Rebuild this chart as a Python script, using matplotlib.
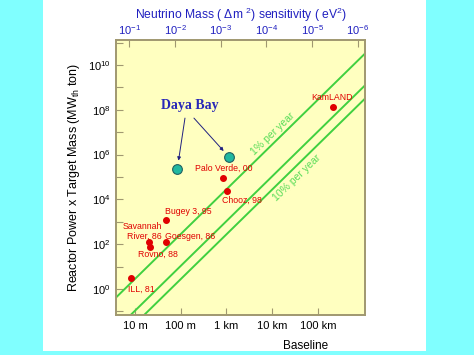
import numpy as np
import matplotlib
matplotlib.use("Agg")
import matplotlib.pyplot as plt
from matplotlib.patches import Rectangle

plt.rcParams['font.family'] = ['Liberation Sans', 'DejaVu Sans']
plt.rcParams['mathtext.fontset'] = 'custom'
plt.rcParams['mathtext.rm'] = 'Liberation Sans'
plt.rcParams['mathtext.it'] = 'Liberation Sans:italic'
narrow = ['Liberation Sans Narrow', 'Liberation Sans']

# past reactor experiments (baseline in m, power x mass)
sites = ["ILL, 81", "Savannah\nRiver, 86", "Rovno, 88", "Bugey 3, 95",
         "Goesgen, 86", "Palo Verde, 00", "Chooz, 98", "KamLAND"]
baseline = [8.2, 20.6, 21.3, 47.7, 47.7, 830, 1050, 2.14e5]
exposure = [3.2, 126, 75, 1200, 130, 8.7e4, 2.45e4, 1.3e8]
label_off = [(7.7, -8.1), (-4.9, 7.6), (6, -5), (16, 6),
             (17.3, 3.6), (1, 7.2), (10.4, -6.7), (-0.7, 7.2)]

# Daya Bay near / far
daya_baseline = [84, 1150]
daya_exposure = [2.3e5, 7.6e5]

# sensitivity lines: exposure = c * L^2
line_logc = [-1.55, -2.97, -3.56]

xticks = [10, 100, 1000, 1e4, 1e5]
xticklabels = ["10 m", "100 m", "1 km", "10 km", "100 km"]
dm2_ticks = [1e-1, 1e-2, 1e-3, 1e-4, 1e-5, 1e-6]
k = 0.75  # dm2 ~ k / L

fig = plt.figure(figsize=(4.74, 3.55), dpi=100)
fig.patch.set_facecolor('#80ffff')
bg = fig.add_axes([43/474, 4/355, 383/474, 351/355], zorder=-10)
bg.set_axis_off()
bg.add_patch(Rectangle((0, 0), 1, 1, transform=bg.transAxes, facecolor='white', edgecolor='none'))

ax = fig.add_axes([116/474, 40/355, 249/474, 275/355])
ax.set_facecolor('#ffffc0')
ax.set_xscale('log')
ax.set_yscale('log')
xlim = (3.84, 1.07e6)
ax.set_xlim(*xlim)
ax.set_ylim(0.069, 1.3e11)

spc = '#a09870'
for s in ax.spines.values():
    s.set_color(spc)
    s.set_linewidth(1.2)

L = np.array(xlim)
for c in line_logc:
    ax.plot(L, 10**c * L**2, color='#40d040', lw=1.4, zorder=2)

ax.text(0.631, 0.658, "1% per year", transform=ax.transAxes, rotation=44,
        color='#58dc58', fontsize=7.5, ha='center', va='center', family=narrow)
ax.text(0.727, 0.498, "10% per year", transform=ax.transAxes, rotation=44,
        color='#58dc58', fontsize=7.5, ha='center', va='center', family=narrow)

ax.plot(baseline, exposure, 'o', color='#e00000', ms=4, zorder=3)
for name, x, y, off in zip(sites, baseline, exposure, label_off):
    ax.annotate(name, (x, y), xytext=off, textcoords='offset points',
                ha='center', va='center', color='#e00000', fontsize=6.3,
                multialignment='right', linespacing=1.05, family=narrow)

ax.plot(daya_baseline, daya_exposure, 'o', color='#20b8a0', mec='#206060',
        mew=0.8, ms=7, zorder=4)
ax.text(0.297, 0.761, "Daya Bay", transform=ax.transAxes, ha='center', va='center',
        fontsize=10, fontweight='bold', family='Liberation Serif', color='#2828b8')
for x, y, start in zip(daya_baseline, daya_exposure, [(0.277, 0.716), (0.313, 0.716)]):
    ax.annotate("", (x, y), xytext=start, textcoords='axes fraction',
                arrowprops=dict(arrowstyle='-|>', color='#202080', lw=0.7,
                                mutation_scale=5, shrinkA=0, shrinkB=6))

ax.set_xticks(xticks)
ax.set_xticklabels(xticklabels)
ax.xaxis.set_minor_locator(matplotlib.ticker.NullLocator())
yt = [10.0**i for i in range(-1, 12)]
ax.set_yticks(yt)
ax.set_yticklabels(["$10^{%d}$" % i if i % 2 == 0 else "" for i in range(-1, 12)])
ax.yaxis.set_minor_locator(matplotlib.ticker.NullLocator())
ax.tick_params(direction='in', length=5, color=spc, labelsize=8, pad=4)

ax.set_ylabel("Reactor Power x Target Mass (MW$_{\\mathrm{th}}$ ton)", fontsize=9, labelpad=4)
ax.set_xlabel("Baseline", fontsize=8.5, labelpad=3)
ax.xaxis.set_label_coords(0.76, -0.09)

ax2 = ax.twiny()
ax2.set_xscale('log')
ax2.set_xlim(k / xlim[0], k / xlim[1])
ax2.set_xticks(dm2_ticks)
ax2.set_xticklabels(["$10^{%d}$" % np.log10(t) for t in dm2_ticks])
ax2.xaxis.set_minor_locator(matplotlib.ticker.NullLocator())
ax2.tick_params(direction='in', length=5, color=spc, labelsize=8, labelcolor='#2020c0', pad=2)
for s in ax2.spines.values():
    s.set_color(spc)
    s.set_linewidth(1.2)
ax2.set_xlabel("Neutrino Mass ( $\\Delta$m $^2$) sensitivity ( eV$^2$)", color='#2020c0',
               fontsize=8.7, labelpad=3)

fig.savefig("out.png", dpi=100, facecolor=fig.get_facecolor())
